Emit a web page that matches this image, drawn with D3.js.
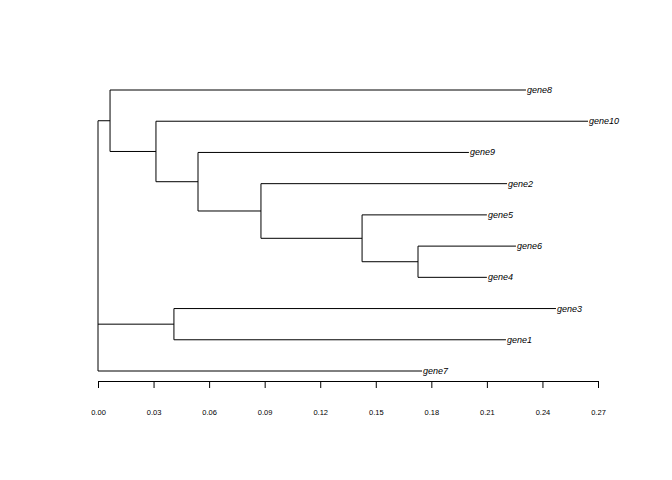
<!DOCTYPE html>
<html><head><meta charset="utf-8">
<script src="https://cdn.jsdelivr.net/npm/d3@7"></script>
<style>body{margin:0;background:#fff}</style></head>
<body><svg width="672" height="480"></svg>
<script>
// tree nodes: name, parent, depth (distance from root)
var nodeNames  = ["root","A","B","C","D","E","F","G","gene8","gene10","gene9","gene2","gene5","gene6","gene4","gene3","gene1","gene7"];
var nodeParent = [null,"root","A","B","C","D","E","root","A","B","C","D","E","F","F","G","G","root"];
var nodeDepth  = [0,0.0065,0.0313,0.054,0.088,0.1426,0.1728,0.041,0.2311,0.2646,0.2003,0.2209,0.21,0.2257,0.21,0.2473,0.2203,0.175];
var tipOrder = ["gene8","gene10","gene9","gene2","gene5","gene6","gene4","gene3","gene1","gene7"];
var tickValues = [0,0.03,0.06,0.09,0.12,0.15,0.18,0.21,0.24,0.27];

var svg = d3.select("svg");
var x = d3.scaleLinear().domain([0, 0.27]).range([98, 598]);
var y = d3.scalePoint().domain(tipOrder).range([90, 371]);

var nodes = {};
nodeNames.forEach(function (n, i) { nodes[n] = {name: n, parent: nodeParent[i], depth: nodeDepth[i], children: []}; });
nodeNames.forEach(function (n) { var p = nodes[n].parent; if (p) nodes[p].children.push(nodes[n]); });

function setY(nd) {
    if (nd.children.length === 0) { nd.y = y(nd.name); return nd.y; }
    var ys = nd.children.map(setY);
    nd.y = (d3.min(ys) + d3.max(ys)) / 2;
    return nd.y;
}
setY(nodes.root);

var g = svg.append("g").attr("stroke", "black").attr("stroke-width", 1).attr("fill", "none");
nodeNames.forEach(function (n) {
    var nd = nodes[n];
    if (nd.parent) {
        g.append("line").attr("x1", x(nodes[nd.parent].depth)).attr("x2", x(nd.depth))
            .attr("y1", nd.y).attr("y2", nd.y);
    }
    if (nd.children.length) {
        var ys = nd.children.map(function (c) { return c.y; });
        g.append("line").attr("x1", x(nd.depth)).attr("x2", x(nd.depth))
            .attr("y1", d3.min(ys)).attr("y2", d3.max(ys));
    }
});

svg.selectAll("text.tip").data(tipOrder).enter().append("text")
    .attr("class", "tip")
    .attr("x", function (d) { return x(nodes[d].depth) + 1; })
    .attr("y", function (d) { return y(d) + 3; })
    .attr("font-family", "Liberation Sans, Arial, sans-serif")
    .attr("font-style", "italic").attr("font-size", 9)
    .text(function (d) { return d; });

var axis = svg.append("g").attr("transform", "translate(0,381)")
    .call(d3.axisBottom(x).tickValues(tickValues).tickFormat(d3.format(".2f")).tickSize(7).tickPadding(22).tickSizeOuter(0));
axis.selectAll("text").attr("font-family", "Liberation Sans, Arial, sans-serif").attr("font-size", 7.5).attr("fill", "black");
axis.selectAll("line,path").attr("stroke", "black");
</script></body></html>
